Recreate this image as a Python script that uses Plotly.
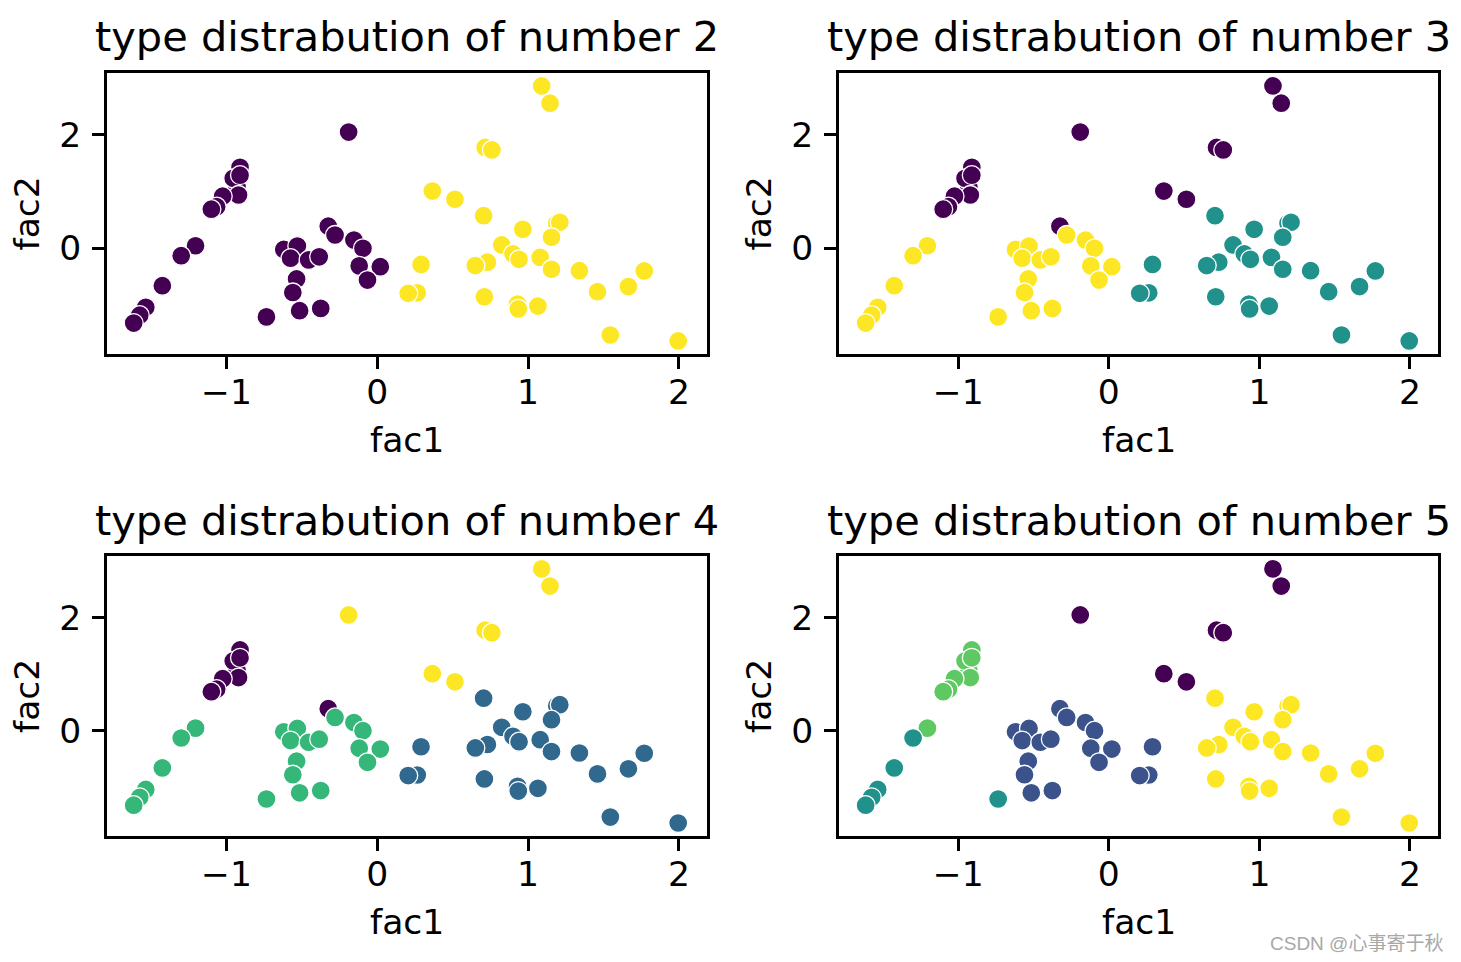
import plotly.graph_objects as go

# ---- data ----
fac1 = [-0.19, -0.91, -0.93, -0.955, -0.91, -0.92, -1.025, -1.065, -1.10, -1.205,
        -1.30, -1.425, -1.535, -1.575, -1.615, -0.325, -0.28, -0.155, -0.095, -0.62,
        -0.53, -0.575, -0.455, -0.385, -0.12, 0.02, -0.065, -0.535, -0.56, -0.515,
        -0.375, -0.735, 1.09, 1.145, 0.715, 0.76, 0.365, 0.515, 0.705, 0.965,
        1.19, 1.21, 1.155, 0.825, 0.90, 0.94, 1.08, 1.155, 0.73, 0.65,
        1.34, 1.46, 1.665, 1.77, 0.29, 0.265, 0.205, 0.71, 0.93, 0.935,
        1.065, 1.545, 1.995]
fac2 = [2.05, 1.43, 1.08, 1.235, 1.29, 0.94, 0.92, 0.735, 0.69, 0.045,
        -0.13, -0.66, -1.04, -1.18, -1.32, 0.39, 0.235, 0.145, 0.0, -0.02,
        0.04, -0.175, -0.205, -0.15, -0.31, -0.325, -0.56, -0.54, -0.78, -1.10,
        -1.06, -1.21, 2.865, 2.56, 1.78, 1.735, 1.01, 0.865, 0.575, 0.335,
        0.44, 0.46, 0.195, 0.06, -0.10, -0.195, -0.16, -0.37, -0.245, -0.305,
        -0.395, -0.765, -0.675, -0.40, -0.285, -0.785, -0.795, -0.855, -0.985, -1.07,
        -1.02, -1.53, -1.635]

type_k2 = [0, 0, 0, 0, 0, 0, 0, 0, 0, 0,
           0, 0, 0, 0, 0, 0, 0, 0, 0, 0,
           0, 0, 0, 0, 0, 0, 0, 0, 0, 0,
           0, 0, 1, 1, 1, 1, 1, 1, 1, 1,
           1, 1, 1, 1, 1, 1, 1, 1, 1, 1,
           1, 1, 1, 1, 1, 1, 1, 1, 1, 1,
           1, 1, 1]
type_k3 = [0, 0, 0, 0, 0, 0, 0, 0, 0, 2,
           2, 2, 2, 2, 2, 0, 2, 2, 2, 2,
           2, 2, 2, 2, 2, 2, 2, 2, 2, 2,
           2, 2, 0, 0, 0, 0, 0, 0, 1, 1,
           1, 1, 1, 1, 1, 1, 1, 1, 1, 1,
           1, 1, 1, 1, 1, 1, 1, 1, 1, 1,
           1, 1, 1]
type_k4 = [3, 0, 0, 0, 0, 0, 0, 0, 0, 2,
           2, 2, 2, 2, 2, 0, 2, 2, 2, 2,
           2, 2, 2, 2, 2, 2, 2, 2, 2, 2,
           2, 2, 3, 3, 3, 3, 3, 3, 1, 1,
           1, 1, 1, 1, 1, 1, 1, 1, 1, 1,
           1, 1, 1, 1, 1, 1, 1, 1, 1, 1,
           1, 1, 1]
type_k5 = [0, 3, 3, 3, 3, 3, 3, 3, 3, 3,
           2, 2, 2, 2, 2, 1, 1, 1, 1, 1,
           1, 1, 1, 1, 1, 1, 1, 1, 1, 1,
           1, 2, 0, 0, 0, 0, 0, 0, 4, 4,
           4, 4, 4, 4, 4, 4, 4, 4, 4, 4,
           4, 4, 4, 4, 1, 1, 1, 4, 4, 4,
           4, 4, 4]

palettes = {
    2: ["#440154", "#fde725"],
    3: ["#440154", "#21918c", "#fde725"],
    4: ["#440154", "#31688e", "#35b779", "#fde725"],
    5: ["#440154", "#3b528b", "#21918c", "#5ec962", "#fde725"],
}
panel_k = [2, 3, 4, 5]
panel_types = [type_k2, type_k3, type_k4, type_k5]
titles = ["type distrabution of number %d" % k for k in panel_k]

x_ticks = [-1, 0, 1, 2]
x_ticktext = ["\u22121", "0", "1", "2"]
y_ticks = [0, 2]
y_ticktext = ["0", "2"]

# ---- layout geometry (page is offset by the browser body margin) ----
W, H = 1461, 962
OFF = 8
def px_x(p):
    return (p - OFF) / W
def px_y(p):
    return 1 - (p - OFF) / H

xdoms = [(px_x(107), px_x(707)), (px_x(839), px_x(1438))]
ydoms = [(px_y(354), px_y(73)), (px_y(836), px_y(556))]
FONT = "DejaVu Sans"
TICK = 34.6
TITLE = 41.5

fig = go.Figure()
annotations = []
layout_axes = {}
for i in range(4):
    r, c = divmod(i, 2)
    n = i + 1
    xa = "x" if n == 1 else "x%d" % n
    ya = "y" if n == 1 else "y%d" % n
    pal = palettes[panel_k[i]]
    cols = [pal[t] for t in panel_types[i]]
    fig.add_trace(go.Scatter(
        x=fac1, y=fac2, mode="markers", xaxis=xa, yaxis=ya,
        marker=dict(size=19, color=cols, line=dict(color="white", width=1.3)),
        showlegend=False, hoverinfo="skip"))
    axcommon = dict(showline=True, linecolor="black", linewidth=2.5, mirror=True,
                    ticks="outside", ticklen=12, tickwidth=2.5, tickcolor="black",
                    showgrid=False, zeroline=False,
                    tickfont=dict(family=FONT, size=TICK, color="black"))
    layout_axes["xaxis" if n == 1 else "xaxis%d" % n] = dict(
        axcommon, domain=list(xdoms[c]), anchor=ya, range=[-1.792, 2.186],
        tickvals=x_ticks, ticktext=x_ticktext, ticklabelstandoff=-6)
    layout_axes["yaxis" if n == 1 else "yaxis%d" % n] = dict(
        axcommon, domain=list(ydoms[r]), anchor=xa, range=[-1.865, 3.093],
        tickvals=y_ticks, ticktext=y_ticktext, ticklabelstandoff=4)
    left_px = 107 if c == 0 else 839
    right_px = 707 if c == 0 else 1438
    top_px = 73 if r == 0 else 556
    bot_px = 354 if r == 0 else 836
    xc = px_x((left_px + right_px) / 2)
    annotations.append(dict(text=titles[i], xref="paper", yref="paper", x=xc,
                            y=px_y(top_px - 36), xanchor="center", yanchor="middle",
                            showarrow=False, font=dict(family=FONT, size=TITLE, color="black")))
    annotations.append(dict(text="fac1", xref="paper", yref="paper", x=xc,
                            y=px_y(bot_px + 86), xanchor="center", yanchor="middle",
                            showarrow=False, font=dict(family=FONT, size=TICK, color="black")))
    annotations.append(dict(text="fac2", xref="paper", yref="paper",
                            x=px_x(left_px - 80),
                            y=px_y((top_px + bot_px) / 2), xanchor="center", yanchor="middle",
                            textangle=-90, showarrow=False,
                            font=dict(family=FONT, size=TICK, color="black")))

annotations.append(dict(text="CSDN @心事寄于秋", xref="paper", yref="paper",
                        x=px_x(1445), y=px_y(943), xanchor="right", yanchor="middle",
                        showarrow=False,
                        font=dict(family="Liberation Sans, Noto Sans CJK SC", size=19, color="#a8a8a8")))

fig.update_layout(width=W, height=H, margin=dict(l=0, r=0, t=0, b=0),
                  paper_bgcolor="white", plot_bgcolor="white",
                  annotations=annotations, **layout_axes)
fig.write_html("out.html")
